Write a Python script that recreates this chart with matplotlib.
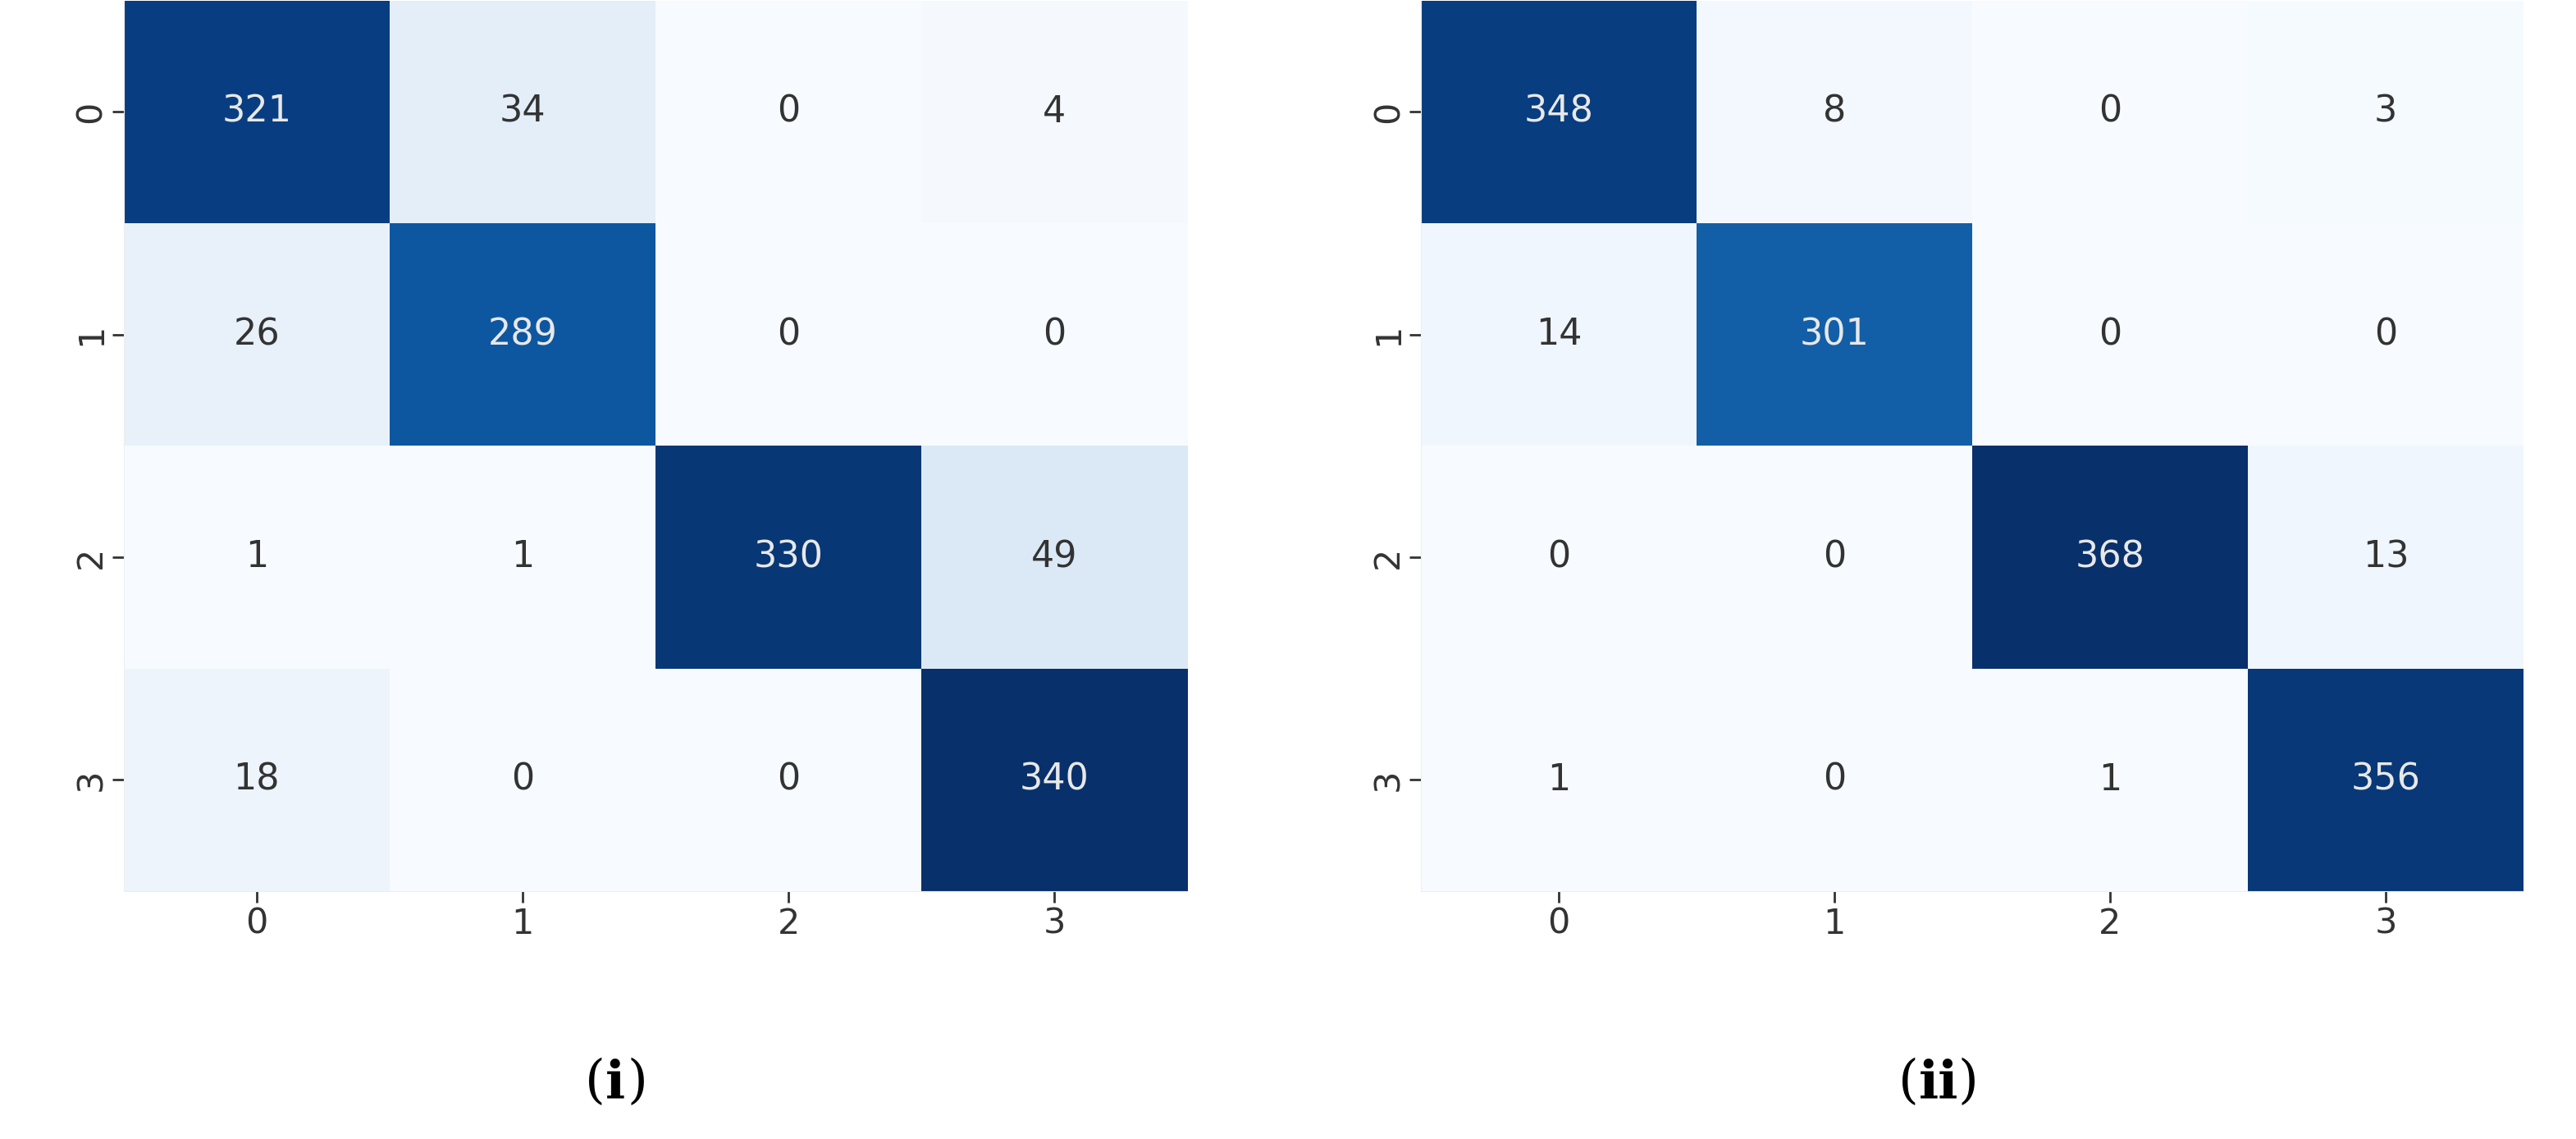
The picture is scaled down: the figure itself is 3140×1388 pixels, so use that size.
import matplotlib
matplotlib.use("Agg")
import matplotlib.pyplot as plt
import seaborn as sns
import numpy as np

labels = ["0", "1", "2", "3"]
cm_i = [[321, 34, 0, 4],
        [26, 289, 0, 0],
        [1, 1, 330, 49],
        [18, 0, 0, 340]]
cm_ii = [[348, 8, 0, 3],
         [14, 301, 0, 0],
         [0, 0, 368, 13],
         [1, 0, 1, 356]]
captions = ["i", "ii"]

plt.rcParams['font.family'] = ['DejaVu Sans']
fig = plt.figure(figsize=(31.4, 13.88), dpi=100)
positions = [[0.048, 0.2176, 0.413, 0.782], [0.5516, 0.2176, 0.428, 0.782]]
caption_x = [0.235, 0.745]
for cm, pos, cap, cx in zip([cm_i, cm_ii], positions, captions, caption_x):
    ax = fig.add_axes(pos)
    sns.heatmap(np.array(cm), annot=True, fmt="d", cmap="Blues", cbar=False, ax=ax,
                xticklabels=labels, yticklabels=labels,
                annot_kws={"fontsize": 32})
    for t in ax.texts:
        c = t.get_color()
        if c in ("w", "white") or (isinstance(c, tuple) and c[0] > 0.9):
            t.set_color("#e8e8e8")
        else:
            t.set_color("#333333")
    ax.tick_params(axis="both", labelsize=31, length=10, width=2, colors="#333333")
    ax.set_yticklabels(labels, rotation=90, va="center")
    for s in ["bottom", "left"]:
        ax.spines[s].set_visible(True)
        ax.spines[s].set_color("#eeeeee")
    fig.text(cx, 0.049, "(", fontsize=46, family="DejaVu Serif", ha="right", va="center")
    fig.text(cx, 0.049, cap, fontsize=46, family="DejaVu Serif", weight="bold", ha="left", va="center")
    fig.text(cx + 0.0065 * len(cap) + 0.002, 0.049, ")", fontsize=46, family="DejaVu Serif", ha="left", va="center")

fig.savefig("out.png", dpi=100)
